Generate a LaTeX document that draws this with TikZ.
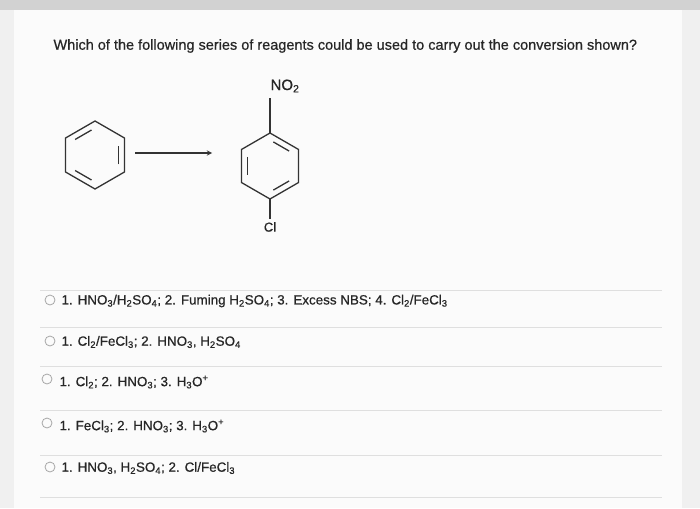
\documentclass[tikz,border=0pt]{standalone}
\usetikzlibrary{calc}
\usepackage{fontspec}
\setmainfont{Liberation Sans}[FakeBold=0.6]
\begin{document}
\begin{tikzpicture}[x=1pt,y=-1pt,
  opt/.style={anchor=west,font=\fontsize{13.4}{15}\selectfont,text=black!85},
  radio/.style={circle,draw=gray!70,line width=0.8pt,minimum size=10pt,inner sep=0pt},
  sep/.style={draw=gray!25,line width=1pt},
  bond/.style={line width=1.3pt,draw=black!80}]
\fill[gray!12] (0,0) rectangle (700,508);
\fill[gray!35] (0,0) rectangle (700,10);
\fill[white!97!gray] (14,10) rectangle (682,508);
\node[opt,font=\fontsize{14.5}{17}\selectfont] (q) at (50,46) {Which of the following series of reagents could be used to carry out the conversion shown?};
% left benzene
\coordinate (L) at (95,155);
\draw[bond] (L) ++(90:34) -- ++(-30:34) -- ++(-90:34) -- ++(-150:34) -- ++(150:34) -- ++(90:34) -- cycle;
\path (L) ++(150:27) coordinate (l1) (L) ++(90:27) coordinate (l2)
      (L) ++(30:27) coordinate (l3) (L) ++(-30:27) coordinate (l4)
      (L) ++(-90:27) coordinate (l5) (L) ++(-150:27) coordinate (l6);
\draw[bond] ($(l1)!0.15!(l2)$) -- ($(l1)!0.85!(l2)$);
\draw[bond] ($(l3)!0.15!(l4)$) -- ($(l3)!0.85!(l4)$);
\draw[bond] ($(l5)!0.15!(l6)$) -- ($(l5)!0.85!(l6)$);
% arrow
\coordinate (a1) at (135,153); \coordinate (a2) at (212,153);
\draw[line width=1.3pt,black!80,-stealth] (a1) -- (a2);
% right ring
\coordinate (R) at (270,166);
\draw[bond] (R) ++(90:33) -- ++(-30:33) -- ++(-90:33) -- ++(-150:33) -- ++(150:33) -- ++(90:33) -- cycle;
\path (R) ++(150:26) coordinate (r1) (R) ++(90:26) coordinate (r2)
      (R) ++(30:26) coordinate (r3) (R) ++(-30:26) coordinate (r4)
      (R) ++(-90:26) coordinate (r5) (R) ++(-150:26) coordinate (r6);
\draw[bond] ($(r2)!0.15!(r3)$) -- ($(r2)!0.85!(r3)$);
\draw[bond] ($(r4)!0.15!(r5)$) -- ($(r4)!0.85!(r5)$);
\draw[bond] ($(r6)!0.15!(r1)$) -- ($(r6)!0.85!(r1)$);
\node[font=\fontsize{15}{17}\selectfont,text=black!85] (no2) at (285,86) {NO\textsubscript{2}};
\node[font=\fontsize{13}{15}\selectfont,text=black!85] (cl) at (270,227) {Cl};
\draw[bond] (270,133) -- (270,98);
\draw[bond] (270,199) -- (cl.north);
% separators
\foreach \y in {290,327,366,410,455,497}{\draw[sep] (40,\y) -- (662,\y);}
% options
\node[radio] (c1) at (50,300) {}; \node[opt] (o1) at (58,301) {1. HNO\textsubscript{3}/H\textsubscript{2}SO\textsubscript{4}; 2. Fuming H\textsubscript{2}SO\textsubscript{4}; 3. Excess NBS; 4. Cl\textsubscript{2}/FeCl\textsubscript{3}};
\node[radio] (c2) at (50,341) {}; \node[opt] (o2) at (58,342) {1. Cl\textsubscript{2}/FeCl\textsubscript{3}; 2. HNO\textsubscript{3}, H\textsubscript{2}SO\textsubscript{4}};
\node[radio] (c3) at (47,379) {}; \node[opt] (o3) at (56,382) {1. Cl\textsubscript{2}; 2. HNO\textsubscript{3}; 3. H\textsubscript{3}O\textsuperscript{+}};
\node[radio] (c4) at (47,423) {}; \node[opt] (o4) at (56,426) {1. FeCl\textsubscript{3}; 2. HNO\textsubscript{3}; 3. H\textsubscript{3}O\textsuperscript{+}};
\node[radio] (c5) at (50,467) {}; \node[opt] (o5) at (58,468) {1. HNO\textsubscript{3}, H\textsubscript{2}SO\textsubscript{4}; 2. Cl/FeCl\textsubscript{3}};
\end{tikzpicture}
\end{document}
